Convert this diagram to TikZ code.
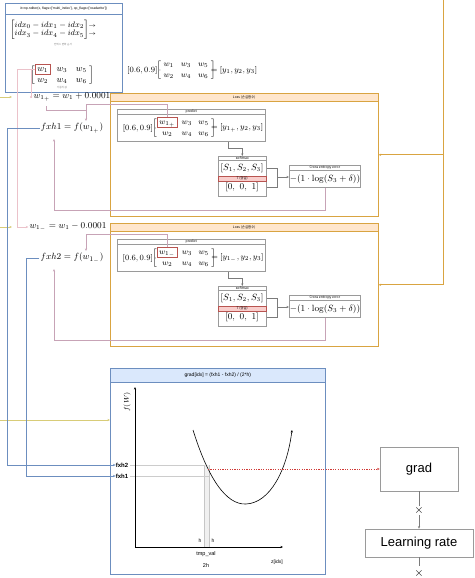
\documentclass[tikz,border=0pt]{standalone}
\usepackage{amsmath}
\usepackage{fontspec}
\setsansfont{Liberation Sans}
\newfontfamily\kr{Noto Sans CJK KR}
\usetikzlibrary{arrows.meta,matrix,fit,calc}
\definecolor{bluel}{HTML}{6C8EBF}
\definecolor{bluef}{HTML}{DAE8FC}
\definecolor{orl}{HTML}{D9A441}
\definecolor{orf}{HTML}{FFE6CC}
\definecolor{yel}{HTML}{D8CC78}
\definecolor{pinkl}{HTML}{EBC2CA}
\definecolor{mauve}{HTML}{C7A3B6}
\definecolor{redl}{HTML}{B85450}
\definecolor{redd}{HTML}{D03A36}
\definecolor{redf}{HTML}{F8CECC}
\definecolor{grayl}{HTML}{9A9A9A}
\tikzset{
  cont/.style={draw=#1, line width=0.6pt, anchor=north west, inner sep=0pt},
  hdr/.style={anchor=north west, inner sep=0pt, line width=0.6pt, font=\kr\fontsize{3.4}{4}\selectfont},
  eqf/.style={inner sep=1pt, font=\fontsize{#1}{#1}\selectfont},
  wm/.style={matrix of math nodes, ampersand replacement=\&, left delimiter={[}, right delimiter={]},
    inner sep=0pt, column sep=#1, row sep=2.5pt, nodes={inner sep=1pt, text height=5pt, text depth=1.5pt}},
  note/.style={text=gray, align=center, inner sep=0pt, font=\kr\fontsize{2.6}{3.3}\selectfont},
  gl/.style={draw=grayl!80!black, line width=0.5pt},
  ml/.style={draw=mauve, line width=0.6pt},
  pl/.style={draw=pinkl, line width=0.6pt},
  bl/.style={draw=bluel, line width=0.8pt},
  yl/.style={draw=yel, line width=0.8pt},
  ol/.style={draw=orl, line width=0.8pt},
  arr/.style={-{Stealth[length=2.6pt,width=2.2pt]}},
  bigbox/.style={draw=grayl, line width=0.6pt, inner sep=0pt, font=\sffamily\fontsize{13}{14}\selectfont},
  sfs/.style={inner sep=0pt, font=\sffamily\fontsize{#1}{#1}\selectfont},
}
\begin{document}
\begin{tikzpicture}[x=1pt,y=-1pt]
\fill[white] (0,0) rectangle (474,578);
\useasboundingbox (0,0) rectangle (474,578);

% ---------- top-left box ----------
\node[cont=bluel, minimum width=117pt, minimum height=89pt] (TB) at (5,3) {};
\node[hdr, draw=bluel, fill=white, minimum width=117pt, minimum height=11pt,
      font=\sffamily\fontsize{3.4}{4}\selectfont] (TBh) at (5,3)
      {it=np.nditer(x, flags=['multi\_index'], op\_flags=['readwrite'])};
\node[eqf=8.5] (IDX) at (53,30) {$\left[\begin{matrix} idx_0 - idx_1 - idx_2\\ idx_3 - idx_4 - idx_5\end{matrix}\right]\!\begin{matrix}\scriptstyle\rightarrow\\ \scriptstyle\rightarrow\end{matrix}$};
\node[note] (N0) at (63,45) {인덱스 변화 순서};
\matrix[wm=6.5pt, font=\fontsize{9}{10}\selectfont] (M0) at (62,75)
  {w_1 \& w_3 \& w_5\\ w_2 \& w_4 \& w_6\\};
\node[draw=redl, line width=0.7pt, fit=(M0-1-1), inner sep=0.6pt] (R0) {};
\node[note] (N1) at (62,88) {가중치 값};

% ---------- main equation ----------
\matrix[wm=5pt, font=\fontsize{8.5}{9}\selectfont] (ME) at (186,70)
  {w_1 \& w_3 \& w_5\\ w_2 \& w_4 \& w_6\\};
\node[eqf=8.5, anchor=east] (MEa) at (ME.west) {$[0.6, 0.9]\,\cdot$};
\node[eqf=8.5, anchor=west] (MEb) at (ME.east) {$=[y_1, y_2, y_3]$};

% ---------- w +/- formulas ----------
\node[eqf=9] (WP) at (72,97) {$w_{1_+} = w_1 + 0.0001$};
\node[eqf=9] (WM) at (68,227) {$w_{1_-} = w_1 - 0.0001$};

% ---------- loss boxes ----------
\coordinate (OT) at (443,0);
\foreach \i/\dy/\sg in {1/0/+,2/130/-}{
  \node[cont=orl, minimum width=268pt, minimum height=123pt] (L\i) at (110,93+\dy) {};
  \node[hdr, draw=orl, fill=orf, minimum width=268pt, minimum height=8pt] (L\i h) at (110,93+\dy) {Loss (손실함수)};
  % predict
  \node[cont=grayl, minimum width=148pt, minimum height=32pt] (P\i) at (117,109+\dy) {};
  \node[hdr, draw=grayl, fill=white, minimum width=148pt, minimum height=4.5pt] (P\i h) at (117,109+\dy) {predict};
  \matrix[wm=4.5pt, font=\fontsize{8.4}{10}\selectfont] (PM\i) at (184,128+\dy)
    {w_{1_\sg} \& w_3 \& w_5\\ w_2 \& w_4 \& w_6\\};
  \node[eqf=8.4, anchor=east] (PMa\i) at (PM\i.west) {$[0.6, 0.9]\,\cdot$};
  \node[eqf=8.4, anchor=west] (PMb\i) at (PM\i.east) {$=[y_{1_\sg}, y_2, y_3]$};
  \node[draw=redl, line width=0.7pt, fit=(PM\i-1-1), inner sep=0.6pt] (R\i) {};
  % softmax
  \node[cont=grayl, minimum width=48pt, minimum height=40pt] (SM\i) at (218,156+\dy) {};
  \node[hdr, draw=grayl, fill=white, minimum width=48pt, minimum height=4pt] (SM\i h) at (218,156+\dy) {softmax};
  \node[eqf=9] (S\i) at (242,168+\dy) {$[S_1, S_2, S_3]$};
  \node[hdr, draw=redl, fill=redf, minimum width=48pt, minimum height=5pt, line width=0.4pt] (TT\i) at (218,176+\dy) {T (정답)};
  \node[eqf=9] (T\i) at (242,187+\dy) {$[0,\ 0,\ 1]$};
  % cross entropy
  \node[cont=grayl, minimum width=71pt, minimum height=22pt] (CE\i) at (289,165+\dy) {};
  \node[hdr, draw=grayl, fill=white, minimum width=71pt, minimum height=5pt] (CE\i h) at (289,165+\dy) {Cross entropy error};
  \node[eqf=9] (CEt\i) at (325,179+\dy) {$-(1\cdot\log(S_3+\delta))$};
  % fxh formula
  \node[eqf=9.5] (F\i) at (72,128+\dy) {$fxh\i = f(w_{1_\sg})$};
  % connectors inside
  \draw[gl,arr] ([xshift=37pt]P\i.south) -- ++(0,7) -| (SM\i h.north);
  \coordinate (J\i) at (277,177+\dy);
  \draw[gl] (S\i.east -| SM\i.east) -| (J\i);
  \draw[gl] (T\i.east -| SM\i.east) -| (J\i);
  \draw[gl,arr] (J\i) -- (J\i -| CE\i.west);
  \coordinate (B\i) at (54,210+\dy);
  \coordinate (Fin\i) at (54,139+\dy);
  \draw[ml,arr] (CE\i.south) |- (B\i) -- (Fin\i);
  \coordinate (K\i) at (86,104+\dy);
  \coordinate (Kf\i) at (86,121+\dy);
  \draw[ml,arr] (R\i.north) |- (K\i) -- (Kf\i);
  \draw[ol,arr] (L\i.east -| OT) -- (L\i.east);
}
\draw[ol] (OT) -- (OT |- L2.east);
\coordinate (U1) at (46,106);
\draw[ml] (U1) |- ($(K1)!0.35!(Kf1)$);

% ---------- pink lines from w1 ----------
\coordinate (PA) at (17,227);
\coordinate (PB) at (31,97);
\draw[pl,arr] (R0.west) -| (PA) -- (WM.west);
\draw[pl,arr] (R0.west) -| (PB) -- (WP.west);

% ---------- yellow inputs ----------
\coordinate (Y1) at (0,97);  \coordinate (Y1e) at (12,97);
\coordinate (Y2) at (0,227); \coordinate (Y2e) at (12,227);
\coordinate (Y3) at (0,420);
\draw[yl,arr] (Y1) -- (Y1e);
\draw[yl,arr] (Y2) -- (Y2e);

% ---------- graph box ----------
\node[cont=bluel, minimum width=215pt, minimum height=206pt] (G) at (110,368) {};
\node[hdr, draw=bluel, fill=bluef, minimum width=215pt, minimum height=14pt,
      font=\sffamily\fontsize{5}{6}\selectfont] (Gh) at (110,368) {grad[idx] = (fxh1 - fxh2) / (2*h)};
\draw[yl,arr] (Y3) -- (Y3 -| G.west);
\coordinate (O) at (135,547);
\coordinate (Ytop) at (135,387);
\coordinate (Xend) at (283,547);
\fill[gray!12] (204,465) rectangle (209,547);
\draw[gray!45, line width=0.4pt] (204,465) -- (204,547) (209,465) -- (209,547);
\node[sfs=6, font=\sffamily\bfseries\fontsize{6}{6}\selectfont] (LB2) at (122,465) {fxh2};
\node[sfs=6, font=\sffamily\bfseries\fontsize{6}{6}\selectfont] (LB1) at (122,476) {fxh1};
\draw[gray!40, line width=0.4pt] (LB2.east) ++(2,0) -- (205,465);
\draw[gray!40, line width=0.4pt] (LB1.east) ++(2,0) -- (209,476);
\draw[line width=0.7pt, arr] (O) -- (Ytop);
\draw[line width=0.7pt, arr] (O) -- (Xend);
\node[rotate=90, eqf=7] (FW) at (127,402) {$f(W)$};
\node[sfs=5] (ZI) at (277,562) {z[idx]};
\node[sfs=5] (H1) at (200,541) {h};
\node[sfs=5] (H2) at (213,541) {h};
\node[sfs=5.5] (TV) at (206,554) {tmp\_val};
\node[sfs=5.5] (TH) at (206,566) {2h};
\draw[line width=0.6pt, arr] (193,430) .. controls (208,478) and (226,505) .. (246,504)
      .. controls (270,503) and (287,470) .. (292,430);

% ---------- blue connectors ----------
\coordinate (BX1) at (7,0);
\coordinate (BX2) at (26,0);
\draw[bl,arr] (F1.west) -- (F1.west -| BX1) -- (BX1 |- LB2.west) -- (LB2.west);
\draw[bl,arr] (F2.west) -- (F2.west -| BX2) -- (BX2 |- LB1.west) -- (LB1.west);

% ---------- grad / learning rate ----------
\node[bigbox, minimum width=78pt, minimum height=44pt] (GR) at (419,469) {grad};
\node[bigbox, minimum width=108pt, minimum height=28pt] (LR) at (419,543) {Learning rate};
\coordinate (RD) at (208,469);
\draw[draw=redd, line width=0.9pt, dash pattern=on 1.2pt off 1.2pt, arr] (RD) -- (GR.west);
\draw[gl, line width=0.7pt, arr] (GR.south) -- node[fill=white, inner sep=0.5pt, font=\fontsize{13}{13}\selectfont] (X1) {$\times$} (LR.north);
\coordinate (LRo) at (419,566);
\draw[gl, line width=0.7pt] (LR.south) -- (LRo);
\node[inner sep=0.5pt, font=\fontsize{13}{13}\selectfont] (X2) at (419,573) {$\times$};
\end{tikzpicture}
\end{document}
